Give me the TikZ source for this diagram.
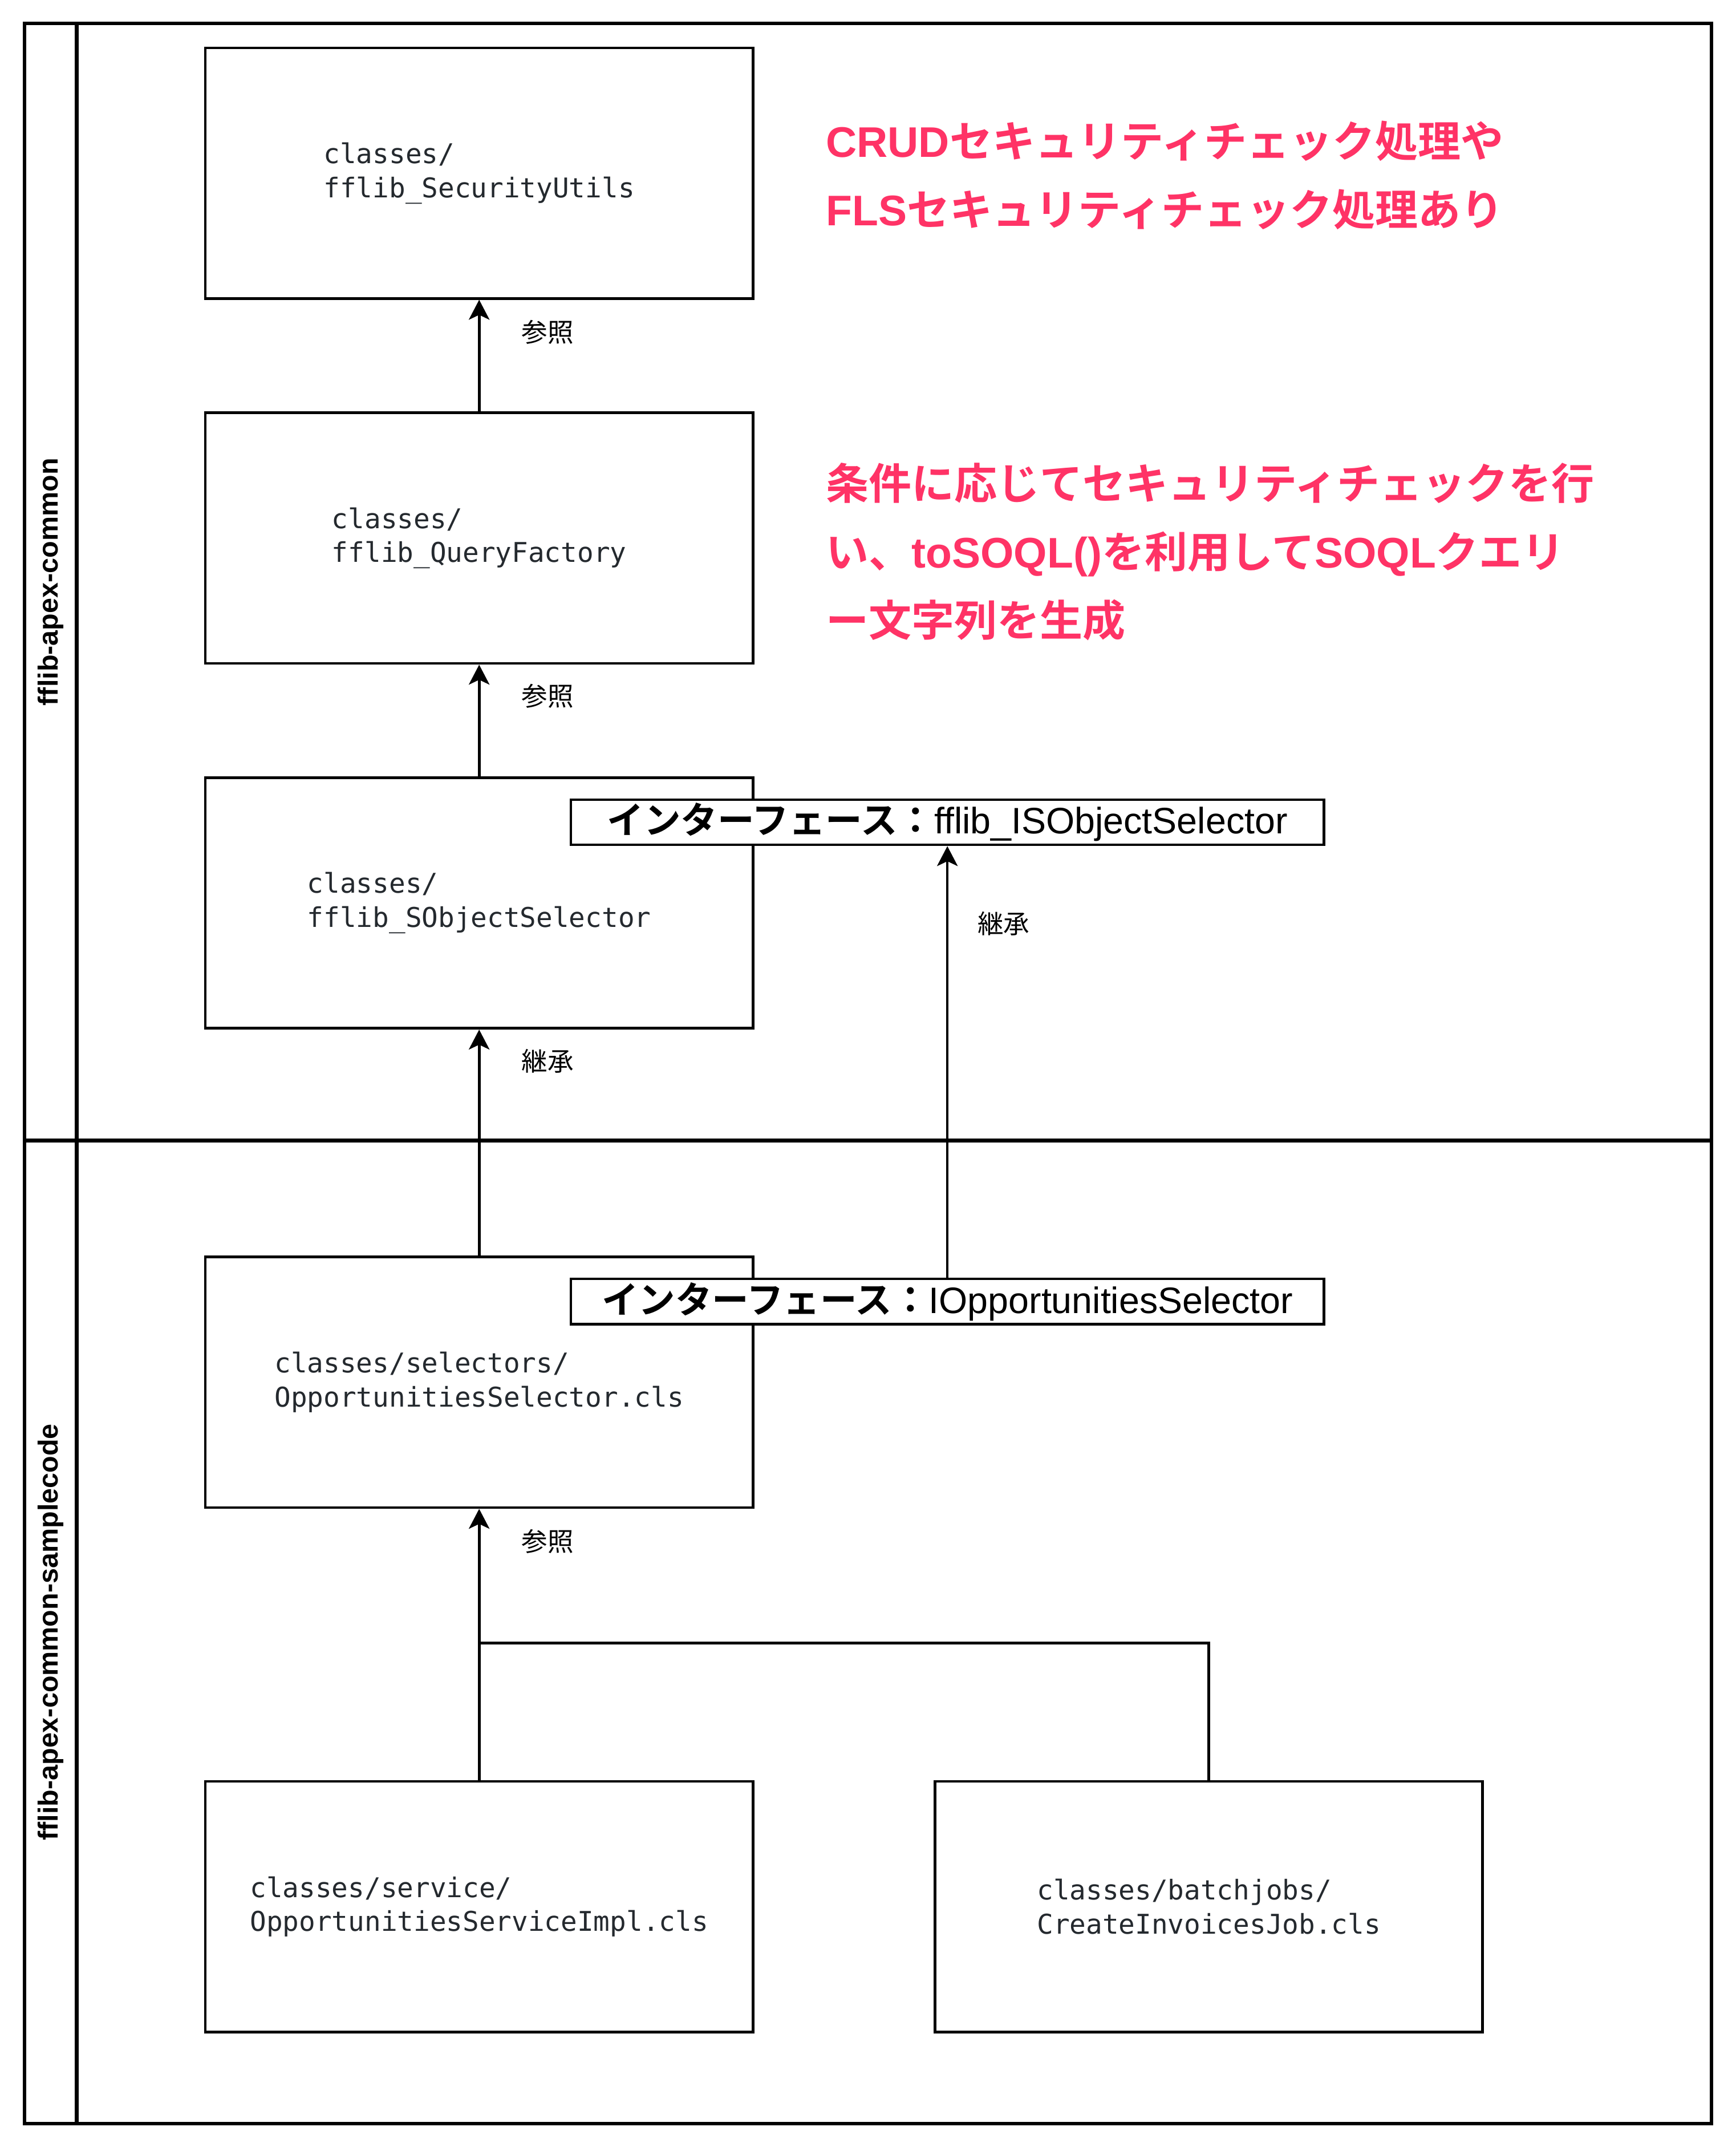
\documentclass[tikz,border=0pt]{standalone}
\usepackage{fontspec}
\setmainfont{Liberation Sans}
\setmonofont{DejaVu Sans Mono}
\newfontfamily\jpfont{Noto Sans CJK JP}[BoldFont={Noto Sans CJK JP Bold}]
\usetikzlibrary{arrows.meta}
\definecolor{memopink}{HTML}{FF3366}
\definecolor{codegray}{HTML}{24292E}
\newcommand{\lat}[1]{{\rmfamily #1}}

\begin{document}
\begin{tikzpicture}[x=0.02cm, y=-0.02cm,
  every node/.style={inner sep=0pt},
  filebox/.style={draw, line width=1.1pt, minimum width=8cm, minimum height=3.66cm,
    align=left, text=codegray, font=\ttfamily\fontsize{11.3}{14.2}\selectfont},
  ifbox/.style={draw, fill=white, line width=1.1pt, minimum width=11cm, minimum height=0.66cm,
    font=\fontsize{15.3}{18}\selectfont},
  lane/.style={rotate=90, font=\bfseries\fontsize{11.5}{14}\selectfont},
  lbl/.style={font=\jpfont\fontsize{10.8}{13}\selectfont},
  memo/.style={anchor=west, align=left, text=memopink,
    font=\jpfont\bfseries\fontsize{17.8}{28.45}\selectfont},
  arr/.style={-{Stealth[length=0.29cm, width=0.3cm, inset=0.07cm]}, line width=1.1pt}]
\useasboundingbox (0,0) rectangle (1268,1568);

\draw[line width=1.5pt] (18,17) rectangle (1250,1551);
\draw[line width=1.5pt] (56,17) -- (56,1551);
\draw[line width=1.5pt] (18,833) -- (1250,833);
\node[lane] (common) at (37,425) {fflib-apex-common};
\node[lane] (sample) at (37,1192) {fflib-apex-common-samplecode};

\node[filebox] (secu)   at (350,126.5)  {classes/\\fflib\_SecurityUtils};
\node[filebox] (qf)     at (350,393)    {classes/\\fflib\_QueryFactory};
\node[filebox] (sos)    at (350,659.5)  {classes/\\fflib\_SObjectSelector};
\node[filebox] (oppsel) at (350,1009.5) {classes/selectors/\\OpportunitiesSelector.cls};
\node[filebox] (svc)    at (350,1392.5) {classes/service/\\OpportunitiesServiceImpl.cls};
\node[filebox] (batch)  at (883,1392.5) {classes/batchjobs/\\CreateInvoicesJob.cls};

\node[ifbox] (isos) at (692,600.5) {{\jpfont\bfseries インターフェース：}fflib\_ISObjectSelector};
\node[ifbox] (iopp) at (692,950.5) {{\jpfont\bfseries インターフェース：}IOpportunitiesSelector};

\node[memo] (crud) at (603,128) {\lat{CRUD}セキュリティチェック処理や\\\lat{FLS}セキュリティチェック処理あり};
\node[memo] (soql) at (603,403) {条件に応じてセキュリティチェックを行\\い、\lat{toSOQL()}を利用して\lat{SOQL}クエリ\\ー文字列を生成};

\coordinate (join) at (350,1200);

\draw[arr] (qf) -- (secu) node[lbl, pos=0.71, xshift=1cm] {参照};
\draw[arr] (sos) -- (qf) node[lbl, pos=0.72, xshift=1cm] {参照};
\draw[arr] (oppsel) -- (sos) node[lbl, pos=0.86, xshift=1cm] {継承};
\draw[arr] (iopp) -- (isos) node[lbl, pos=0.82, xshift=0.82cm] {継承};
\draw[arr] (svc) -- (oppsel) node[lbl, pos=0.88, xshift=1cm] {参照};
\draw[line width=1.1pt] (batch.north) |- (join);
\end{tikzpicture}
\end{document}
